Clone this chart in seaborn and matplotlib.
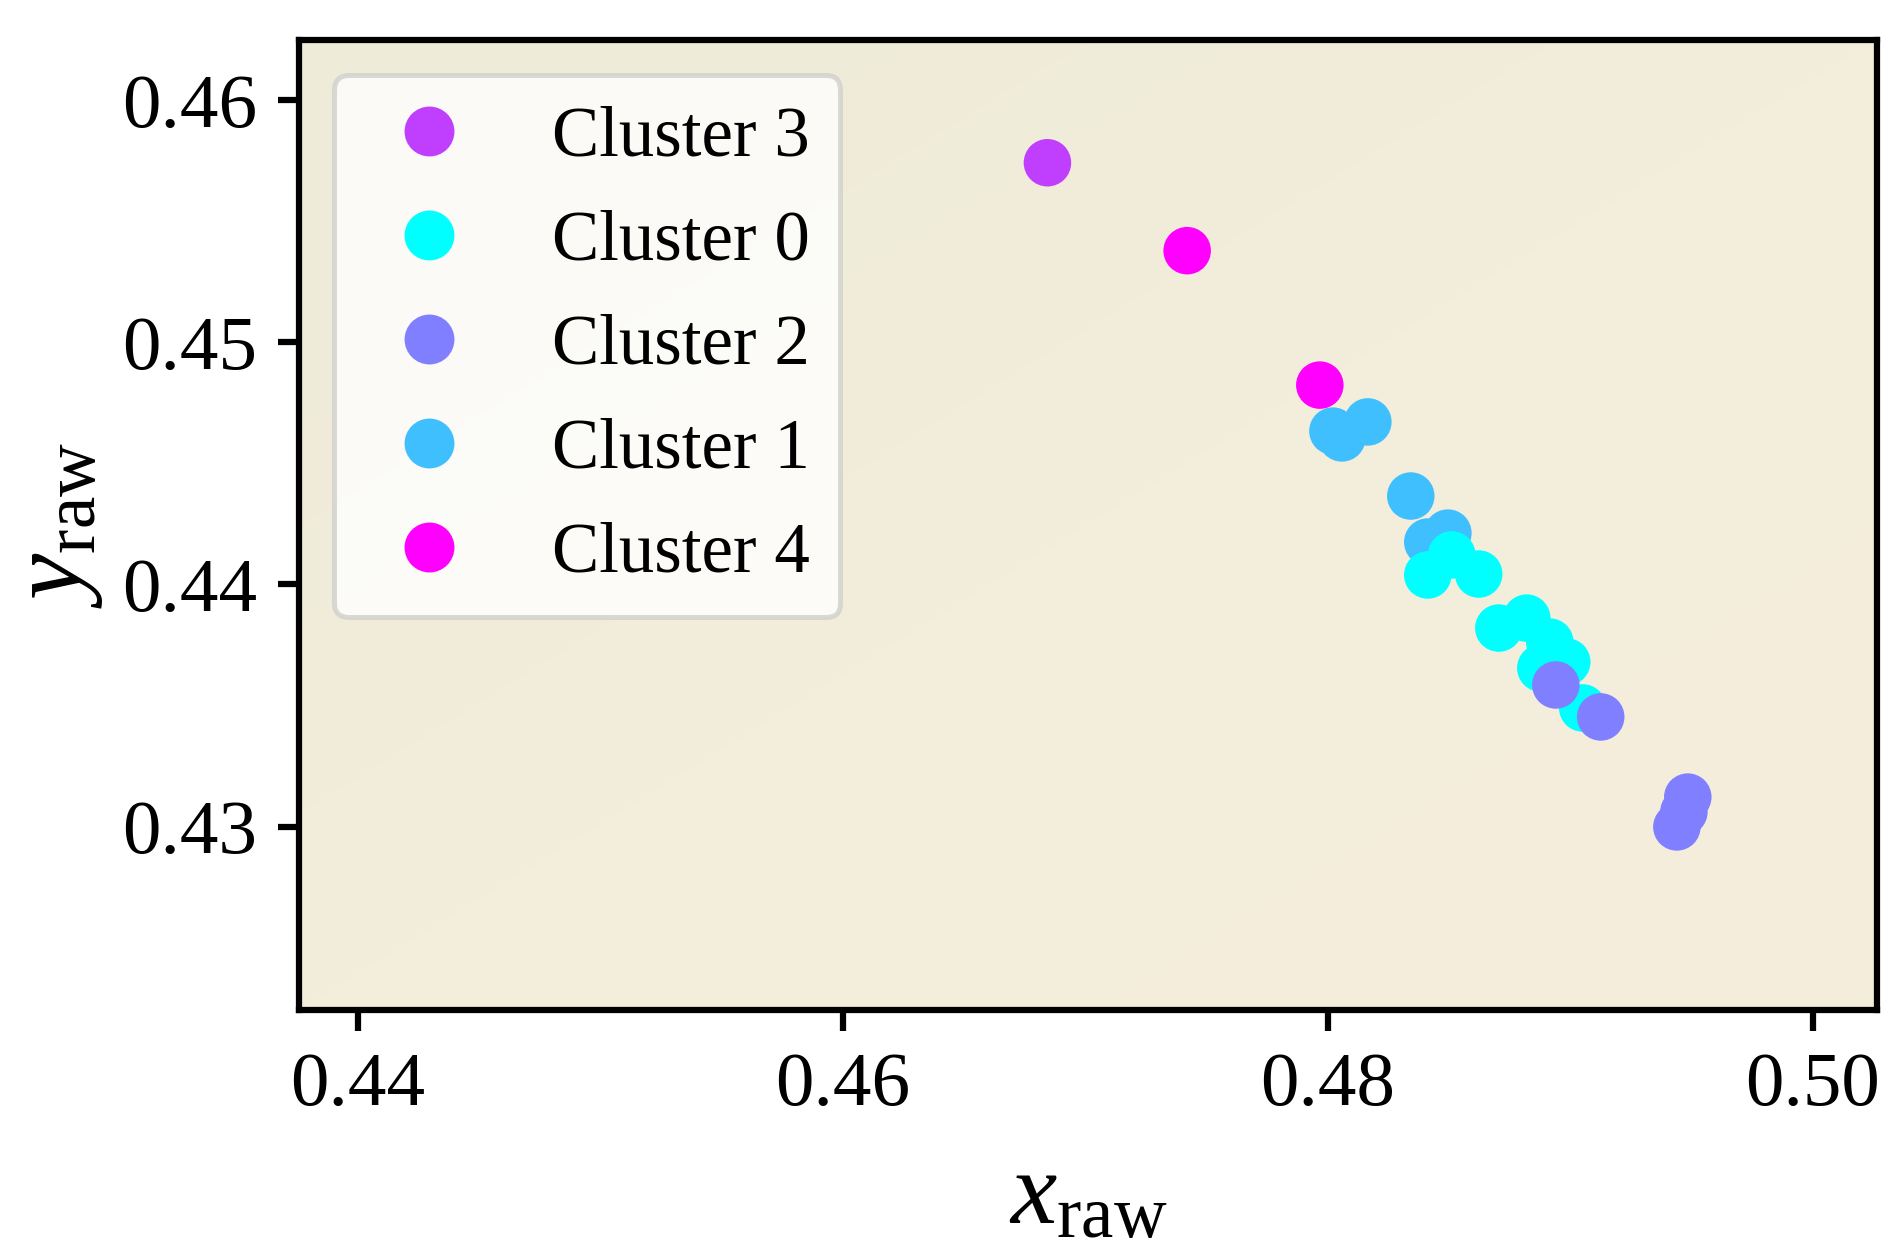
import numpy as np
import pandas as pd
import matplotlib
matplotlib.use("Agg")
import matplotlib.pyplot as plt
from matplotlib.colors import LinearSegmentedColormap
import seaborn as sns

# ---- data ----
cluster3_x = [0.46844]
cluster3_y = [0.45741]

cluster4_x = [0.47420, 0.47967]
cluster4_y = [0.45378, 0.44823]

cluster1_x = [0.48021, 0.48058, 0.48165, 0.48342, 0.48412, 0.48495]
cluster1_y = [0.44633, 0.44605, 0.44671, 0.44365, 0.44175, 0.44212]

cluster0_x = [0.48511, 0.48412, 0.48622, 0.48705, 0.48820, 0.48915, 0.48985, 0.48878, 0.49051]
cluster0_y = [0.44122, 0.44039, 0.44043, 0.43820, 0.43861, 0.43762, 0.43680, 0.43655, 0.43490]

cluster2_x = [0.48940, 0.49125, 0.49484, 0.49468, 0.49439]
cluster2_y = [0.43585, 0.43453, 0.43122, 0.43061, 0.42999]

legend_order = ["Cluster 3", "Cluster 0", "Cluster 2", "Cluster 1", "Cluster 4"]
x_ticks = [0.44, 0.46, 0.48, 0.50]
y_ticks = [0.43, 0.44, 0.45, 0.46]

rows = []
for name, xs, ys in [("Cluster 3", cluster3_x, cluster3_y),
                     ("Cluster 4", cluster4_x, cluster4_y),
                     ("Cluster 1", cluster1_x, cluster1_y),
                     ("Cluster 0", cluster0_x, cluster0_y),
                     ("Cluster 2", cluster2_x, cluster2_y)]:
    for a, b in zip(xs, ys):
        rows.append({"x": a, "y": b, "cluster": name})
df = pd.DataFrame(rows)

cool = plt.get_cmap("cool")
palette = {
    "Cluster 0": cool(0.0),
    "Cluster 1": cool(0.25),
    "Cluster 2": cool(0.5),
    "Cluster 3": cool(0.75),
    "Cluster 4": cool(1.0),
}

# ---- style ----
sns.set_theme(style="ticks")
plt.rcParams["font.family"] = ["Liberation Serif", "DejaVu Serif"]
plt.rcParams["mathtext.fontset"] = "custom"
plt.rcParams["mathtext.rm"] = "Liberation Serif"
plt.rcParams["mathtext.it"] = "Liberation Serif:italic"
plt.rcParams["axes.linewidth"] = 1.5
plt.rcParams["axes.edgecolor"] = "black"
plt.rcParams["text.color"] = "black"
plt.rcParams["axes.labelcolor"] = "black"
plt.rcParams["xtick.color"] = "black"
plt.rcParams["ytick.color"] = "black"

fig = plt.figure(figsize=(1904 / 300, 1260 / 300), dpi=300)
ax = fig.add_axes([0.1570, 0.1984, 0.9858 - 0.1570, 0.9683 - 0.1984])

# subtle beige gradient background
bg = LinearSegmentedColormap.from_list("bg", ["#EEEBD9", "#F3EDDB", "#F5EDDC"])
grad = np.add.outer(np.linspace(0, 1, 200), np.linspace(0, 1, 200)) / 2.0
ax.imshow(grad, cmap=bg, extent=[0, 1, 0, 1], transform=ax.transAxes,
          aspect="auto", zorder=0, origin="upper", interpolation="bicubic")

sns.scatterplot(data=df, x="x", y="y", hue="cluster", hue_order=legend_order,
                palette=palette, s=130, linewidth=0, ax=ax, zorder=2)

ax.set_xlim(0.43758, 0.50264)
ax.set_ylim(0.42243, 0.46248)
ax.set_xticks(x_ticks)
ax.set_xticklabels([f"{t:.2f}" for t in x_ticks])
ax.set_yticks(y_ticks)
ax.set_yticklabels([f"{t:.2f}" for t in y_ticks])
ax.tick_params(axis="both", which="major", labelsize=18.5, length=5, width=1.5,
               direction="out", color="black", pad=5, labelcolor="black")

ax.set_xlabel(r"$x_{\mathrm{raw}}$", fontsize=25, labelpad=7.5, color="black")
ax.set_ylabel(r"$y_{\mathrm{raw}}$", fontsize=25, labelpad=4, color="black")

for sp in ax.spines.values():
    sp.set_visible(True)
    sp.set_linewidth(1.5)
    sp.set_color("black")

leg = ax.legend(loc="upper left", fontsize=17, frameon=True, fancybox=True,
                framealpha=0.8, facecolor="white", edgecolor="#D0D0CC",
                markerscale=1.05, labelspacing=0.55, borderpad=0.43,
                handlelength=1.8, handletextpad=0.84)
leg.get_frame().set_linewidth(1.2)
for t in leg.get_texts():
    t.set_color("black")

fig.savefig("out.png", dpi=300)
